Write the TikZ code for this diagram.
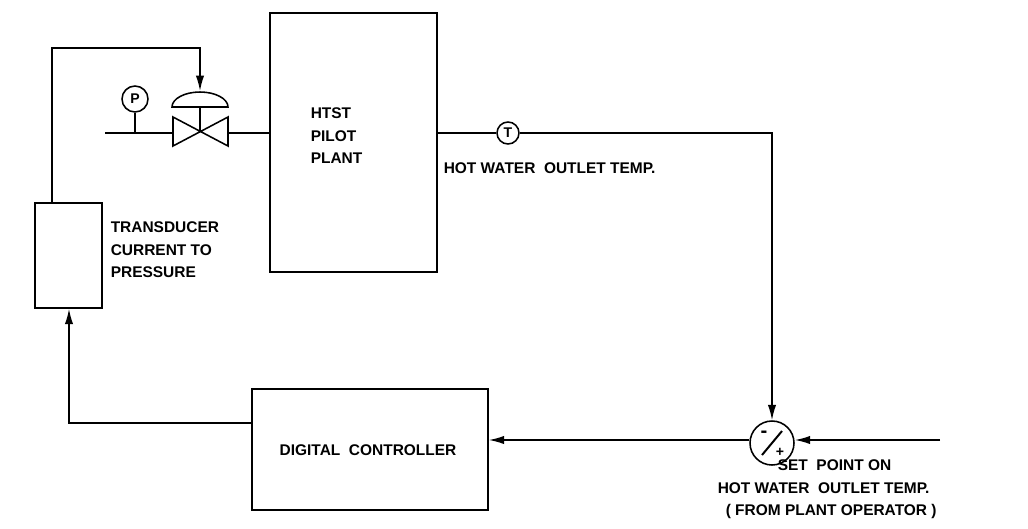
\documentclass[tikz,border=0pt]{standalone}
\usepackage{fontspec}
\setmainfont{Liberation Sans}
\usetikzlibrary{arrows.meta}
\begin{document}
\begin{tikzpicture}[
    x=0.025cm, y=-0.025cm,
    line width=1.1pt,
    block/.style={rectangle, draw, line width=1.1pt, inner sep=0pt},
    label/.style={font=\fontsize{11}{16}\selectfont\bfseries, align=left, inner sep=0pt},
    instr/.style={circle, draw, line width=1.1pt, inner sep=0pt, font=\fontsize{10}{10}\selectfont\bfseries},
    arrow/.style={-{Latex[length=11pt,width=6pt]}, line width=1.1pt}
]
\useasboundingbox (0,0) rectangle (1028,528);

% Blocks
\node[block, minimum width=167*0.025cm, minimum height=259*0.025cm] (plant) at (353.5,142.5) {};
\node[block, minimum width=67*0.025cm, minimum height=105*0.025cm] (transducer) at (68.5,255.5) {};
\node[block, minimum width=236*0.025cm, minimum height=121*0.025cm] (controller) at (370,449.5) {};
\node[instr, minimum size=44*0.025cm] (sum) at (772,443) {};
\node[instr, minimum size=22*0.025cm] (temp) at (508,133) {T};
\node[instr, minimum size=26*0.025cm] (gauge) at (135,99) {P};

% Labels
\node[label, anchor=west] (plantlabel) at (310,136) {HTST\\PILOT\\PLANT};
\node[label, anchor=west] (translabel) at (110,250) {TRANSDUCER\\CURRENT TO\\PRESSURE};
\node[label, anchor=west] (templabel) at (443,168) {HOT WATER\ \ OUTLET TEMP.};
\node[label] (ctrllabel) at (368,450) {DIGITAL\ \ CONTROLLER};
\node[label, anchor=west] (sp1) at (777,465) {SET\ \ POINT ON};
\node[label, anchor=west] (sp2) at (717,488) {HOT WATER\ \ OUTLET TEMP.};
\node[label, anchor=west] (sp3) at (725,511) {( FROM PLANT OPERATOR )};

% Summing junction marks
\draw[line width=1.4pt] ([shift={(-10,12)}]sum.center) -- ([shift={(10,-12)}]sum.center);
\node[font=\bfseries\Large, inner sep=0pt] (minus) at ([shift={(-8,-9)}]sum.center) {-};
\node[font=\bfseries, inner sep=0pt] (plus) at ([shift={(8,9)}]sum.center) {+};

% Valve and actuator
\coordinate (valve) at (200,131);
\draw (173,117) -- (173,146) -- (228,117) -- (228,146) -- cycle;
\draw (172,107) arc[start angle=180, end angle=360, x radius=28, y radius=15] -- cycle;
\draw (valve) -- (200,107);
\coordinate (pipein) at (105,133);
\draw (pipein) -- (173,133);
\draw[line width=2pt] (gauge.south) -- (135,133);
\draw (228,133) -- (plant.west |- 0,133);

% Signal loop
\coordinate (toploop) at (52,48);
\draw[arrow] (transducer.north -| 52,0) -- (toploop) -| (200,91);
\draw (plant.east |- 0,133) -- (temp.west);
\coordinate (corner) at (772,133);
\draw[arrow] (temp.east) -- (corner) -- (sum.north);
\coordinate (setin) at (940,440);
\draw[arrow] (setin) -- (sum.east |- setin);
\draw[arrow] (sum.west |- 0,440) -- (controller.east |- 0,440);
\draw[arrow] (controller.west |- 0,423) -| (transducer.south -| 69,0);

\end{tikzpicture}
\end{document}
